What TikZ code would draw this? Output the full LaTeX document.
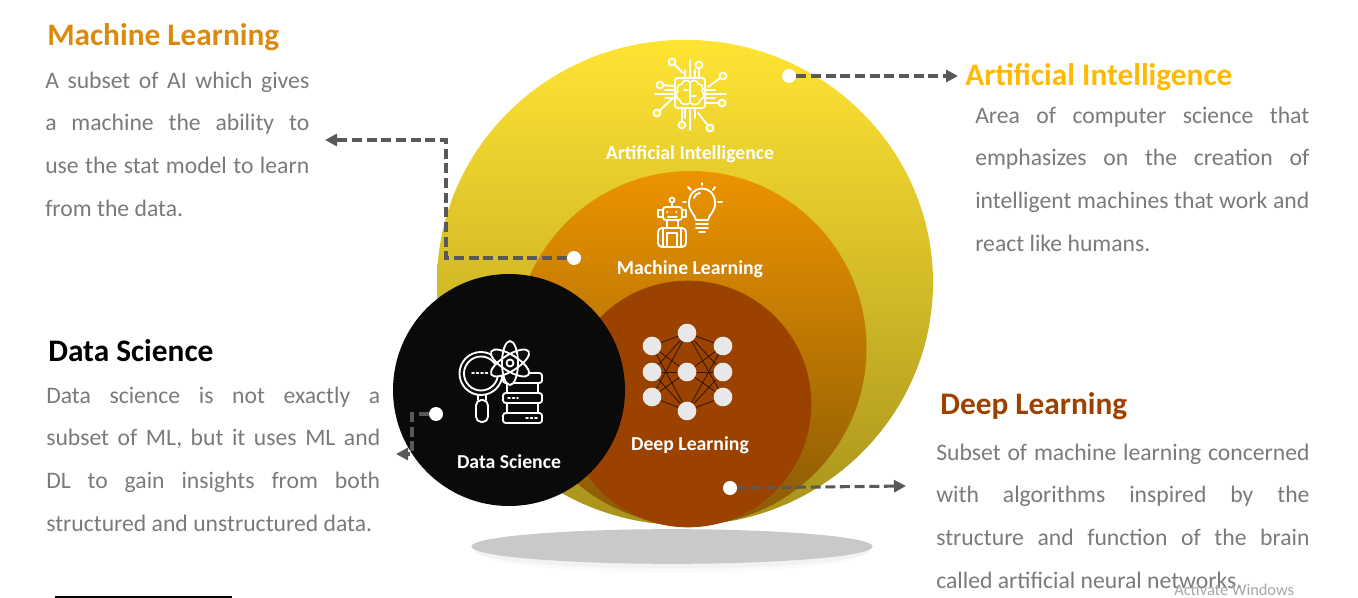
\documentclass[tikz,border=0pt]{standalone}
\usepackage{fontspec}
\setmainfont{Carlito}
\usetikzlibrary{arrows.meta, shapes.geometric}
\definecolor{aitop}{HTML}{FFE433}
\definecolor{aimid}{HTML}{E0C429}
\definecolor{aibot}{HTML}{A8921C}
\definecolor{mltop}{HTML}{EC9300}
\definecolor{mlmid}{HTML}{CB7E00}
\definecolor{mlbot}{HTML}{8A5A05}
\definecolor{dlfill}{HTML}{9C4200}
\definecolor{dsfill}{HTML}{0A0A0A}
\definecolor{bodygray}{HTML}{7A7A7A}
\definecolor{linkgray}{HTML}{595959}
\definecolor{mlhead}{HTML}{DB8A10}
\definecolor{aihead}{HTML}{FFB900}
\newcommand{\jl}[2][250.5pt]{\makebox[#1][s]{#2}}
\begin{document}
\begin{tikzpicture}[x=0.75pt, y=-0.75pt]
    \tikzstyle{ball}=[circle, draw=none, inner sep=0pt]
    \tikzstyle{oval}=[ellipse, draw=none, inner sep=0pt]
    \tikzstyle{dot}=[circle, fill=white, minimum size=10.5pt, inner sep=0pt]
    \tikzstyle{link}=[draw=linkgray, line width=2.3pt, dash pattern=on 7.5pt off 3.5pt, -{Triangle[length=9pt, width=9pt]}]
    \tikzstyle{neuron}=[circle, fill=white!91!black, minimum size=14pt, inner sep=0pt]
    \tikzstyle{icon}=[draw=white, line width=1.4pt, line cap=round, line join=round]
    \tikzstyle{head}=[font=\fontsize{23.5}{28}\selectfont\bfseries, anchor=base west, inner sep=0pt]
    \tikzstyle{para}=[font=\fontsize{17.75}{32}\selectfont, text=bodygray, anchor=north west, align=left, inner sep=0pt]
    \tikzstyle{tag}=[font=\fontsize{14.8}{18}\selectfont\bfseries, text=white, anchor=base, inner sep=0pt]
    \useasboundingbox (0,0) rectangle (1358,598);

    % shadow under the circles
    \node[oval, fill=black!2, minimum width=290pt, minimum height=31pt] (glow-a) at (672,552) {};
    \node[oval, fill=black!5, minimum width=296pt, minimum height=28pt] (glow-b) at (672,550) {};
    \node[oval, fill=black!21, minimum width=301pt, minimum height=26pt] (shadow) at (672,546.5) {};

    % the four circles
    \node[oval, top color=aitop, middle color=aimid, bottom color=aibot, minimum width=372pt, minimum height=364pt] (AI) at (685,282.5) {};
    \node[oval, top color=mltop, middle color=mlmid, bottom color=mlbot, minimum width=264pt, minimum height=265.5pt] (ML) at (690.5,348) {};
    \node[ball, fill=dlfill, minimum size=185pt] (DL) at (688,404) {};
    \node[ball, fill=dsfill, minimum size=174pt] (DS) at (509,390) {};

    % neural network
    \foreach \name/\x/\y in {1/652/346, 2/652/372, 3/652/397, 4/687/333, 5/687/372, 6/687/411, 7/723/346, 8/723/372, 9/723/397}
    \node[neuron] (N-\name) at (\x,\y) {};
    \foreach \from/\to in {1/4, 1/5, 1/6, 2/4, 2/5, 2/6, 3/4, 3/5, 3/6, 4/7, 4/8, 4/9, 5/7, 5/8, 5/9, 6/7, 6/8, 6/9}
    \draw[draw=black!70!dlfill, line width=0.6pt] (N-\from) -- (N-\to);

    % chip icon
    \draw[icon, rounded corners=2pt] (675,78) rectangle (705,108);
    \foreach \x in {685,695} {
        \draw[icon] (\x,78) -- (\x,70);
        \draw[icon] (\x,108) -- (\x,118);
    }
    \foreach \y in {90,98} {
        \draw[icon] (675,\y) -- (665,\y);
        \draw[icon] (705,\y) -- (715,\y);
    }
    \draw[icon] (690,78) -- (690,60);
    \draw[icon] (690,108) -- (690,130);
    \draw[icon] (675,94) -- (655,94);
    \draw[icon] (705,94) -- (726,94);
    \foreach \a/\b/\c/\d in {683/73/672/62, 699/78/699/65, 708/87/723/76, 705/103/722/103, 675/86/660/85, 673/98/657/113, 682/108/682/125, 698/113/710/128} {
        \draw[icon] (\a,\b) -- (\c,\d);
        \draw[icon, fill=aitop] (\c,\d) circle (3.5);
    }
    \draw[icon, line width=1.2pt] (690,82) .. controls (686,79) and (682,81) .. (682,84) .. controls (678,84) and (676,88) .. (678,91)
        .. controls (675,94) and (676,99) .. (680,100) .. controls (680,104) and (685,106) .. (690,103) -- (690,82)
        .. controls (694,79) and (698,81) .. (698,84) .. controls (702,84) and (704,88) .. (702,91)
        .. controls (705,94) and (704,99) .. (700,100) .. controls (700,104) and (695,106) .. (690,103);
    \draw[icon, line width=1.2pt] (684,90) -- (688,90);
    \draw[icon, line width=1.2pt] (692,96) -- (696,96);

    % robot and bulb icon
    \draw[icon, rounded corners=2pt] (663,207) rectangle (682,220);
    \draw[icon] (663,210) -- (658,210) -- (658,217) -- (663,217);
    \draw[icon] (682,210) -- (686,210) -- (686,217) -- (682,217);
    \draw[icon] (667,212) -- (667.5,212);
    \draw[icon] (676,212) -- (676.5,212);
    \draw[icon] (668,217) -- (677,217);
    \draw[icon] (672,207) -- (672,203);
    \draw[icon] (672,200) circle (2.5);
    \draw[icon] (667,220) -- (667,228);
    \draw[icon] (678,220) -- (678,228);
    \draw[icon, rounded corners=3pt] (658,228) rectangle (686,247);
    \draw[icon] (663,228) -- (663,247);
    \draw[icon] (681,228) -- (681,247);
    \draw[icon] (667,247) -- (667,233) -- (677,233) -- (677,247);
    \draw[icon] (696,220) .. controls (695,214) and (688,211) .. (689,202) .. controls (690,184) and (714,184) .. (715,202)
        .. controls (716,211) and (709,214) .. (708,220) -- cycle;
    \draw[icon] (696,224) -- (708,224);
    \draw[icon] (696,228) -- (708,228);
    \draw[icon] (699,232) -- (705,232);
    \draw[icon] (694,198) .. controls (695,195) and (697,193) .. (700,193);
    \foreach \a/\b/\c/\d in {683/202/686/202, 688/187/691/190, 702/183/702/185, 715/187/713/190, 722/202/718/202}
    \draw[icon] (\a,\b) -- (\c,\d);

    % magnifier, atom and stack icon
    \foreach \y in {373,393,413} \draw[icon, rounded corners=2pt] (503,\y) rectangle (542,\y+10);
    \draw[icon] (507,383) -- (507,393);
    \draw[icon] (538,383) -- (538,393);
    \draw[icon] (507,403) -- (507,413);
    \draw[icon] (538,403) -- (538,413);
    \draw[icon, dotted] (508,398) -- (518,398);
    \draw[icon, dotted] (526,418) -- (537,418);
    \draw[icon, fill=dsfill] (481,373.5) circle (21.5);
    \draw[icon] (481,373.5) circle (17);
    \draw[icon] (478,395) -- (478,400);
    \draw[icon] (486,395) -- (486,400);
    \draw[icon, rounded corners=4pt] (476,400) rectangle (488,422);
    \draw[icon, dotted] (472,373) -- (488,373);
    \foreach \ang in {32,-32,90}
    \fill[dsfill, rotate around={\ang:(510,363)}] (510,363) ellipse (22 and 8);
    \foreach \ang in {32,-32,90}
    \draw[icon, rotate around={\ang:(510,363)}] (510,363) ellipse (22 and 8);
    \draw[icon] (510,363) circle (3.5);

    % labels inside the circles
    \node[tag] (AI-tag) at (690,160) {Artificial Intelligence};
    \node[tag] (ML-tag) at (690,275) {Machine Learning};
    \node[tag] (DL-tag) at (690,450) {Deep Learning};
    \node[tag] (DS-tag) at (509,468) {Data Science};

    % connectors
    \node[dot] (AI-dot) at (789,76) {};
    \node[dot] (ML-dot) at (574,258) {};
    \node[dot] (DL-dot) at (730,488) {};
    \node[dot] (DS-dot) at (436,414) {};
    \coordinate (AI-end) at (958,76);
    \coordinate (ML-end) at (325,140);
    \coordinate (DL-end) at (906,486);
    \coordinate (DS-end) at (396,454);
    \draw[link] (AI-dot) -- (AI-end);
    \draw[link] (ML-dot) -| (446,140) -- (ML-end);
    \draw[link] (DL-dot) -- (DL-end);
    \draw[link] (DS-dot) -| (412,454) -- (DS-end);

    % headings
    \node[head, text=mlhead] (ML-head) at (47,46) {Machine Learning};
    \node[head, text=aihead] (AI-head) at (965,86) {Artificial Intelligence};
    \node[head, text=black] (DS-head) at (48,361) {Data Science};
    \node[head, text=dlfill] (DL-head) at (940,414) {Deep Learning};

    % body texts
    \node[para] (ML-text) at (45,71.5) {\jl[198pt]{A subset of AI which gives}\\\jl[198pt]{a machine the ability  to}\\\jl[198pt]{use the stat model to learn}\\from the data.};
    \node[para] (AI-text) at (975,106.5) {\jl{Area of computer science that}\\\jl{emphasizes on the creation of}\\\jl{intelligent machines that work and}\\react like humans.};
    \node[para] (DS-text) at (46,386.5) {\jl{Data science is not exactly a}\\\jl{subset of ML, but it uses ML and}\\\jl{DL to gain insights from both}\\structured and unstructured data.};
    \node[para] (DL-text) at (936,443.5) {\jl[280pt]{Subset of machine learning concerned}\\\jl[280pt]{with algorithms inspired by the}\\\jl[280pt]{structure and function of the brain}\\called artificial neural networks.};

    % leftovers of the slide
    \node[font=\fontsize{12.3}{14}\selectfont, text=black!35, anchor=base west, inner sep=0pt] (watermark) at (1174,595) {Activate Windows};
    \coordinate (rule-a) at (55,597);
    \coordinate (rule-b) at (232,597);
    \draw[black, line width=0.8pt] (rule-a) -- (rule-b);
\end{tikzpicture}
\end{document}
